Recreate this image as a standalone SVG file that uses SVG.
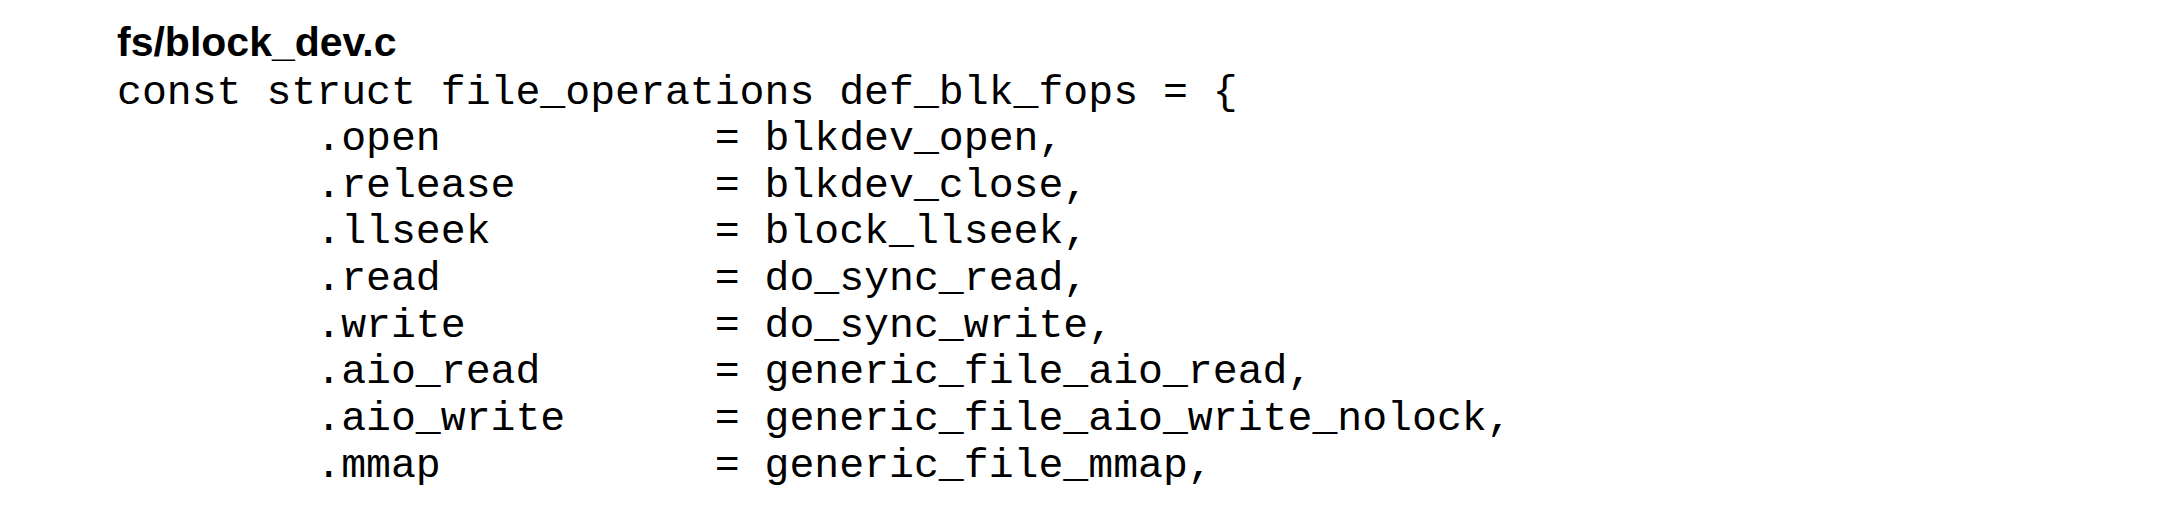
<svg xmlns="http://www.w3.org/2000/svg" width="2178" height="507" viewBox="0 0 2178 507">
<style>
.t{font-family:"Liberation Sans",Arial,sans-serif;font-weight:bold;font-size:41px;fill:#000}
.c{font-family:"Liberation Mono","Courier New",monospace;font-size:41.5px;fill:#000;white-space:pre}
</style>
<rect width="2178" height="507" fill="#fff"/>
<g id="code" xml:space="preserve">
<text class="t" x="117" y="56">fs/block_dev.c</text>
<text class="c" x="117" y="104">const struct file_operations def_blk_fops = {</text>
<text class="c" x="117" y="150">        .open           = blkdev_open,</text>
<text class="c" x="117" y="197">        .release        = blkdev_close,</text>
<text class="c" x="117" y="243">        .llseek         = block_llseek,</text>
<text class="c" x="117" y="290">        .read           = do_sync_read,</text>
<text class="c" x="117" y="337">        .write          = do_sync_write,</text>
<text class="c" x="117" y="383">        .aio_read       = generic_file_aio_read,</text>
<text class="c" x="117" y="430">        .aio_write      = generic_file_aio_write_nolock,</text>
<text class="c" x="117" y="477">        .mmap           = generic_file_mmap,</text>
</g>
</svg>
